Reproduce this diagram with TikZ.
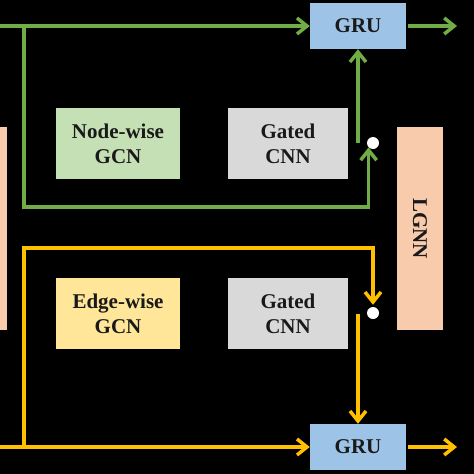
\documentclass[tikz,border=0pt]{standalone}
\usepackage{fontspec}
\setmainfont{Liberation Serif}
\usetikzlibrary{arrows.meta}

\definecolor{linegreen}{HTML}{70AD47}
\definecolor{lineyellow}{HTML}{FFC000}
\definecolor{grublue}{HTML}{9DC3E6}
\definecolor{gcngreen}{HTML}{C5E0B4}
\definecolor{gcnyellow}{HTML}{FFE699}
\definecolor{cnngray}{HTML}{D9D9D9}
\definecolor{lgnnpeach}{HTML}{F8CBAD}

\begin{document}
\begin{tikzpicture}[x=1pt,y=-1pt,
	blk/.style={inner sep=0pt,align=center,text=black!90,font=\fontsize{21}{25}\selectfont\bfseries},
	grubox/.style={blk,fill=grublue,minimum width=96pt,minimum height=46pt},
	midbox/.style={blk,minimum width=#1,minimum height=71pt},
	switch/.style={circle,fill=white,minimum size=12pt,inner sep=0pt},
	gline/.style={line width=3.5pt,color=linegreen},
	yline/.style={line width=3.5pt,color=lineyellow},
	tip/.style={-{Straight Barb[length=10pt,width=16pt,line width=3.5pt]}}]
	%%%%% START %%%%%
	
	\fill[black] (0,0) rectangle (474,474);
	\useasboundingbox (0,0) rectangle (474,474);
	
	% side blocks
	\node[fill=lgnnpeach,minimum width=46pt,minimum height=203pt] (embed) at (-16,228.5) {};
	\node[blk,fill=lgnnpeach,minimum width=203pt,minimum height=46pt,rotate=-90] (lgnn) at (420,228.5) {LGNN};
	
	% node branch
	\node[grubox] (gru1) at (358,26) {GRU};
	\node[midbox=124pt,fill=gcngreen] (ngcn) at (118,143.5) {Node-wise\\GCN};
	\node[midbox=120pt,fill=cnngray] (cnn1) at (288,143.5) {Gated\\CNN};
	\node[switch] (sw1) at (373,143) {};
	
	% edge branch
	\node[grubox] (gru2) at (358,447) {GRU};
	\node[midbox=124pt,fill=gcnyellow] (egcn) at (118,313.5) {Edge-wise\\GCN};
	\node[midbox=120pt,fill=cnngray] (cnn2) at (288,313.5) {Gated\\CNN};
	\node[switch] (sw2) at (373,313) {};
	
	\coordinate (in1) at (0,26);
	\coordinate (br1) at (24,26);
	\coordinate (low1) at (0,207);
	\coordinate (tap1) at (358,143);
	\coordinate (out1) at (457,26);
	
	\coordinate (in2) at (0,447);
	\coordinate (br2) at (24,447);
	\coordinate (high2) at (0,248);
	\coordinate (tap2) at (358,314);
	\coordinate (out2) at (457,447);
	
	% green connectors
	\draw[gline,tip] (in1) -- (gru1.west);
	\draw[gline,tip] (br1) |- (sw1.south west |- low1) -- (sw1.south west);
	\draw[gline,tip] (tap1) -- (gru1.south);
	\draw[gline,tip,shorten <=2pt] (gru1.east) -- (out1);
	
	% yellow connectors
	\draw[yline,tip] (in2) -- (gru2.west);
	\draw[yline,tip,shorten >=2pt] (br2) |- (sw2.north |- high2) -- (sw2.north);
	\draw[yline,tip] (tap2) -- (gru2.north);
	\draw[yline,tip,shorten <=2pt] (gru2.east) -- (out2);
	
	%%%%% END %%%%%
\end{tikzpicture}
\end{document}
